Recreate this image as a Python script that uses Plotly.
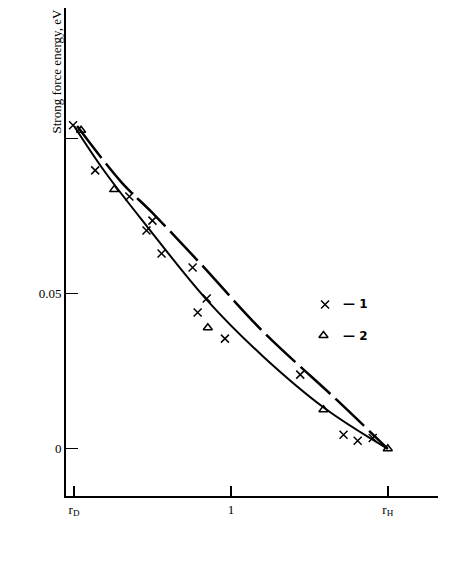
import plotly.graph_objects as go

x_cross = [-0.006, 0.135, 0.353, 0.462, 0.50, 0.558, 0.756, 0.846, 0.788, 0.962, 1.442, 1.718, 1.808, 1.904]
y_cross = [0.1042, 0.0897, 0.0813, 0.0703, 0.0735, 0.0629, 0.0584, 0.0484, 0.0439, 0.0355, 0.0239, 0.0045, 0.0026, 0.0035]
x_tri = [0.045, 0.256, 0.853, 1.59, 2.0]
y_tri = [0.1026, 0.0835, 0.039, 0.0126, 0.0]
x_solid = [0, 0.2, 0.46, 0.846, 1.2, 1.6, 2]
y_solid = [0.104, 0.089, 0.072, 0.048, 0.030, 0.013, 0]
x_dash = [0.02, 0.3, 0.5, 0.8, 1.2, 1.68, 2]
y_dash = [0.104, 0.086, 0.076, 0.060, 0.038, 0.0155, 0]
xtick_vals = [0, 1, 2]
xtick_text = ["r<sub>D</sub>", "1", "r<sub>H</sub>"]
ytick_vals = [0, 0.05, 0.1]
ytick_text = ["0", "0.05", ""]

fig = go.Figure()
fig.add_trace(go.Scatter(x=x_solid, y=y_solid, mode="lines", line=dict(color="black", width=2, shape="spline")))
fig.add_trace(go.Scatter(x=x_dash, y=y_dash, mode="lines", line=dict(color="black", width=2.5, shape="spline", dash="40px,7px")))
fig.add_trace(go.Scatter(x=x_cross, y=y_cross, mode="markers", marker=dict(symbol="x-thin", size=8, line=dict(color="black", width=1.5))))
fig.add_trace(go.Scatter(x=x_tri, y=y_tri, mode="markers", marker=dict(symbol="triangle-up-open", size=8, color="black", line=dict(width=1.5))))
# legend
fig.add_trace(go.Scatter(x=[1.6], y=[0.0465], mode="markers", marker=dict(symbol="x-thin", size=8, line=dict(color="black", width=1.5))))
fig.add_trace(go.Scatter(x=[1.59], y=[0.0365], mode="markers", marker=dict(symbol="triangle-up-open", size=8, color="black", line=dict(width=1.5))))
fig.add_annotation(x=1.7, y=0.0465, text="<b>— 1</b>", showarrow=False, xanchor="left", font=dict(size=12, family="DejaVu Sans", color="black"))
fig.add_annotation(x=1.7, y=0.0365, text="<b>— 2</b>", showarrow=False, xanchor="left", font=dict(size=12, family="DejaVu Sans", color="black"))
fig.add_annotation(xref="paper", x=0, xshift=-20, yref="paper", y=1.0, yanchor="top", text="Strong force energy, eV", textangle=-90, showarrow=False,
                   font=dict(size=13, family="Liberation Serif", color="black"))

fig.update_layout(
    width=474, height=561, showlegend=False, plot_bgcolor="white", paper_bgcolor="white",
    margin=dict(l=58, r=44, t=0, b=73),
    font=dict(family="Liberation Serif", size=13, color="black"),
    xaxis=dict(range=[-0.051, 2.32], tickvals=xtick_vals, ticktext=xtick_text, ticks="inside", ticklen=10, tickwidth=2,
               tickfont=dict(color="black", size=13), tickcolor="black",
               showline=True, linecolor="black", linewidth=2, showgrid=False, zeroline=False),
    yaxis=dict(range=[-0.0152, 0.142], tickvals=ytick_vals, ticktext=ytick_text, ticks="inside", ticklen=12, tickwidth=1,
               tickfont=dict(color="black", size=13), tickcolor="black",
               showline=True, linecolor="black", linewidth=2, showgrid=False, zeroline=False),
)
fig.write_html("out.html")
